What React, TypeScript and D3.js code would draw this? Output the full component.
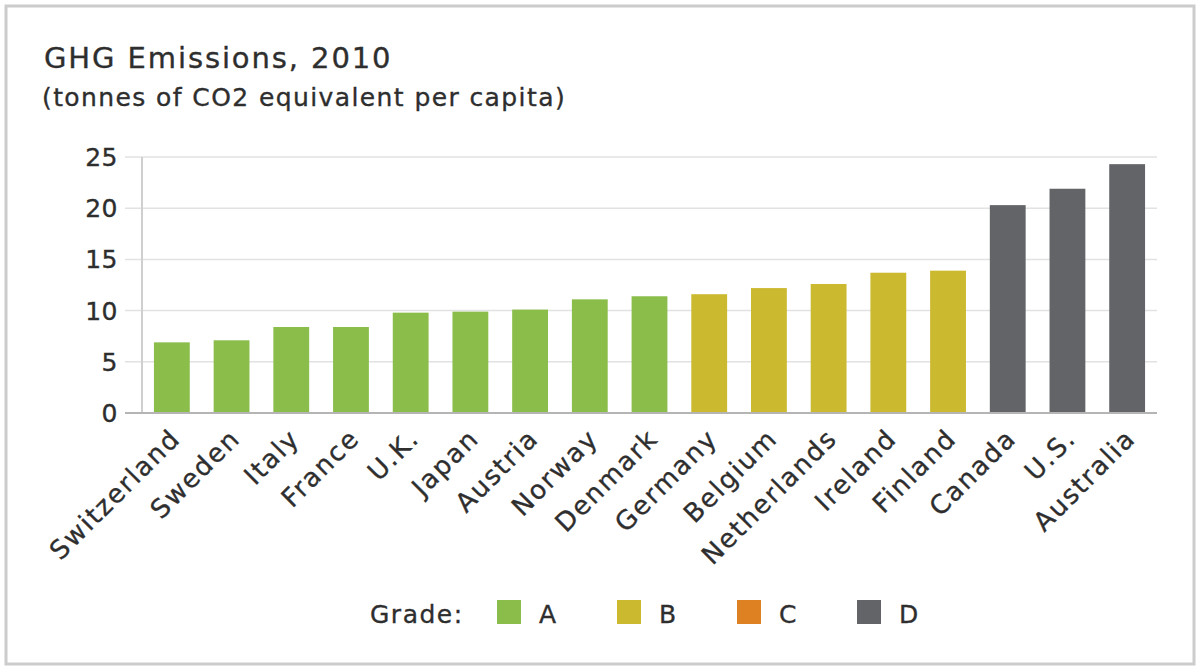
import React from "react";
import * as d3 from "d3";

const countries = [
  "Switzerland", "Sweden", "Italy", "France", "U.K.", "Japan", "Austria", "Norway", "Denmark",
  "Germany", "Belgium", "Netherlands", "Ireland", "Finland", "Canada", "U.S.", "Australia",
];
const emissions = [6.9, 7.1, 8.4, 8.4, 9.8, 9.9, 10.1, 11.1, 11.4, 11.6, 12.2, 12.6, 13.7, 13.9, 20.3, 21.9, 24.3];
const grades = ["A", "A", "A", "A", "A", "A", "A", "A", "A", "B", "B", "B", "B", "B", "D", "D", "D"];
const gradeKeys = ["A", "B", "C", "D"];
const gradeColors = ["#8bbd4b", "#cbb92f", "#de8122", "#636467"];
const yTicks = [0, 5, 10, 15, 20, 25];
const title = "GHG Emissions, 2010";
const subtitle = "(tonnes of CO2 equivalent per capita)";
const legendTitle = "Grade:";

const W = 1200;
const H = 670;
const FONT = "'DejaVu Sans', Verdana, sans-serif";
const TEXT = "#2e2e2e";
const textStyle = { stroke: TEXT, strokeWidth: 0.35 };

export default function App() {
  const x = d3.scaleBand<string>().domain(countries).range([142, 1157]).paddingInner(0.4).paddingOuter(0.2);
  const y = d3.scaleLinear().domain([0, 25]).range([413, 157]);
  const color = d3.scaleOrdinal<string, string>().domain(gradeKeys).range(gradeColors);
  const legendX = d3.scaleBand<string>().domain(gradeKeys).range([497, 977]);

  return (
    <svg
      width={W}
      height={H}
      style={{ position: "absolute", left: 0, top: 0, background: "#fff" }}
      fontFamily={FONT}
    >
      <rect x={6} y={6} width={W - 12} height={H - 12} fill="#fff" stroke="#cccccc" strokeWidth={3} />
      <text x={44} y={68} fontSize={29} letterSpacing={1.9} fill={TEXT} style={textStyle}>{title}</text>
      <text x={42} y={106} fontSize={25} letterSpacing={1.4} fill={TEXT} style={textStyle}>{subtitle}</text>

      {yTicks.map((t) => (
        <g key={t}>
          {t > 0 && (
            <line x1={125} x2={1157} y1={y(t)} y2={y(t)} stroke="#e2e2e2" strokeWidth={1.5} />
          )}
          <text x={118} y={y(t)} dy="0.36em" textAnchor="end" fontSize={25} letterSpacing={0.5} fill={TEXT} style={textStyle}>
            {t}
          </text>
        </g>
      ))}
      <line x1={142} x2={142} y1={157} y2={413} stroke="#cfcfcf" strokeWidth={2} />

      {countries.map((c, i) => (
        <rect
          key={c}
          x={x(c)}
          y={y(emissions[i])}
          width={x.bandwidth()}
          height={y(0) - y(emissions[i])}
          fill={color(grades[i])}
        />
      ))}
      <line x1={125} x2={1157} y1={y(0)} y2={y(0)} stroke="#b5b5b5" strokeWidth={2} />

      {countries.map((c) => {
        const cx = (x(c) as number) + x.bandwidth() / 2;
        return (
          <text
            key={c}
            transform={`translate(${cx + 10},${y(0) + 27}) rotate(-45)`}
            textAnchor="end"
            fontSize={26}
            letterSpacing={1.8}
            fill={TEXT}
            style={textStyle}
          >
            {c}
          </text>
        );
      })}

      <text x={370} y={623} fontSize={25} letterSpacing={1.5} fill={TEXT} style={textStyle}>{legendTitle}</text>
      {gradeKeys.map((g) => (
        <g key={g} transform={`translate(${legendX(g)},600)`}>
          <rect x={0} y={0} width={24} height={24} fill={color(g)} />
          <text x={42} y={23} fontSize={25} fill={TEXT} style={textStyle}>{g}</text>
        </g>
      ))}
    </svg>
  );
}
